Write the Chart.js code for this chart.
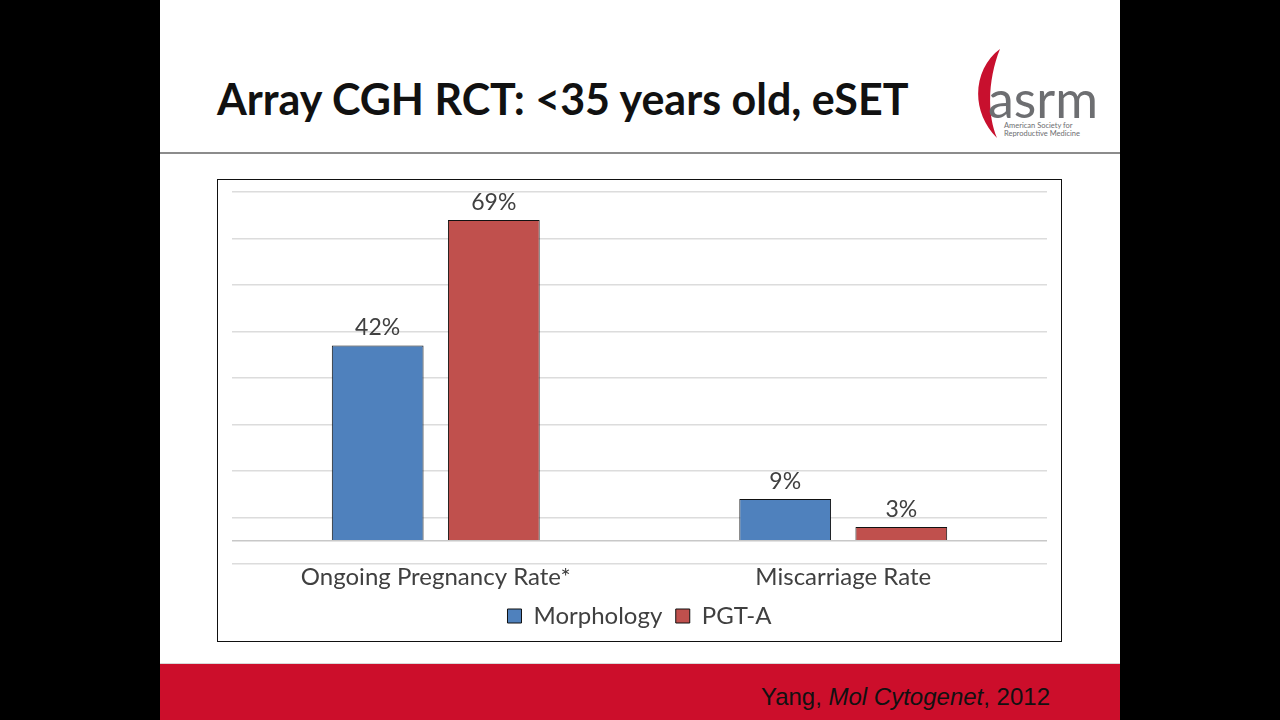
<!DOCTYPE html>
<html>
<head>
<meta charset="utf-8">
<script src="https://cdn.jsdelivr.net/npm/chart.js@4.4.0/dist/chart.umd.min.js"></script>
<style>
  html, body { margin: 0; padding: 0; background: #000; }
  #slide { position: absolute; left: 160px; top: 0; width: 960px; height: 720px; background: #fff; overflow: hidden; }
  #title { position: absolute; left: 57px; top: 73px; font: bold 43px Lato, sans-serif; color: #111; white-space: nowrap; }
  #rule { position: absolute; left: 0; top: 152px; width: 960px; height: 2px; background: #8c8c8c; }
  #logo { position: absolute; left: 812px; top: 48px; width: 130px; height: 92px; }
  #box { position: absolute; left: 57px; top: 179px; width: 843px; height: 461px; border: 1.5px solid #111; }
  #footer { position: absolute; left: 0; top: 663px; width: 960px; height: 57px; background: #cc0e2b; border-top: 1px solid #d8d8d8; }
  #cite { position: absolute; right: 70px; top: 19px; font: 24px "Liberation Sans", Arial, sans-serif; color: #111; }
</style>
</head>
<body>
<div id="slide">
  <div id="title">Array CGH RCT: &lt;35 years old, eSET</div>
  <svg id="logo" viewBox="0 0 130 92">
    <path d="M28 1 C 2 20, -3 62, 25 90 C 14 64, 17 28, 28 1 Z" fill="#c8102e"/>
    <text x="16" y="70" font-family="Lato, sans-serif" font-size="52" fill="#6d6e71">asrm</text>
    <text x="32" y="80" font-family="Lato, sans-serif" font-size="7.5" fill="#6d6e71">American Society for</text>
    <text x="32" y="88" font-family="Lato, sans-serif" font-size="7.5" fill="#6d6e71">Reproductive Medicine</text>
  </svg>
  <div id="rule"></div>
  <div id="box"><canvas id="chart" width="843" height="461"></canvas></div>
  <div id="footer"><div id="cite">Yang, <i>Mol Cytogenet</i>, 2012</div></div>
</div>
<script>
// data
const categories = ['Ongoing Pregnancy Rate*', 'Miscarriage Rate'];
const morphology = [42, 9];
const pgta = [69, 3];
const gridTicks = [-5, 0, 5, 15, 25, 35, 45, 55, 65, 75];

// value labels above each bar
const barLabels = {
  id: 'barLabels',
  afterDatasetsDraw(chart) {
    const ctx = chart.ctx;
    ctx.save();
    ctx.font = '23px Lato, sans-serif';
    ctx.fillStyle = '#404040';
    ctx.textAlign = 'center';
    ctx.textBaseline = 'bottom';
    chart.data.datasets.forEach((ds, i) => {
      chart.getDatasetMeta(i).data.forEach((bar, j) => {
        ctx.fillText(ds.data[j] + '%', bar.x, bar.y - 6);
      });
    });
    ctx.restore();
  }
};

const ctx = document.getElementById('chart').getContext('2d');
new Chart(ctx, {
  type: 'bar',
  data: {
    labels: categories,
    datasets: [
      { label: 'Morphology', data: morphology, backgroundColor: '#4f81bd', borderColor: '#111', borderWidth: 1 },
      { label: 'PGT-A', data: pgta, backgroundColor: '#c0504d', borderColor: '#111', borderWidth: 1 }
    ]
  },
  options: {
    responsive: false,
    animation: false,
    layout: { padding: { left: 14, right: 14, top: 12, bottom: 3 } },
    datasets: { bar: { categoryPercentage: 0.57, barPercentage: 0.79 } },
    scales: {
      x: {
        grid: { display: false, drawTicks: false },
        border: { display: false },
        ticks: { color: '#404040', font: { family: 'Lato', size: 24, lineHeight: 1.1 }, padding: 0 }
      },
      y: {
        min: -5,
        max: 75,
        afterBuildTicks: scale => { scale.ticks = gridTicks.map(v => ({ value: v })); },
        grid: { color: ctx => ctx.tick && ctx.tick.value === 0 ? '#c8c8c8' : '#dcdcdc', lineWidth: 1.5, drawTicks: false },
        border: { display: false },
        ticks: { display: false }
      }
    },
    plugins: {
      legend: {
        position: 'bottom',
        labels: { color: '#404040', font: { family: 'Lato', size: 24 }, boxWidth: 14, boxHeight: 14, padding: 13.5 }
      },
      tooltip: { enabled: false }
    }
  },
  plugins: [barLabels]
});
</script>
</body>
</html>
